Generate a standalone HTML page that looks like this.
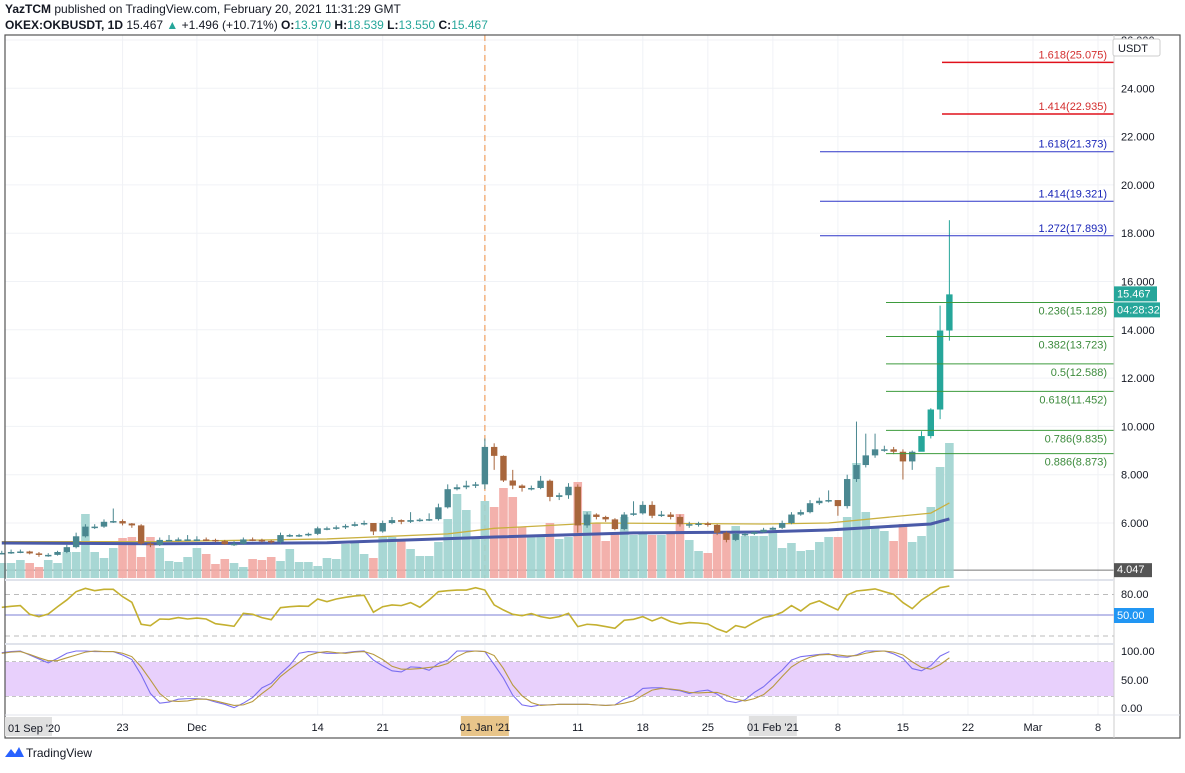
<!DOCTYPE html>
<html><head><meta charset="utf-8"><style>
body{margin:0;background:#fff;width:1185px;height:768px;overflow:hidden;font-family:"Liberation Sans",sans-serif}
svg text{font-family:"Liberation Sans",sans-serif}
</style></head><body>
<svg id="c" width="1185" height="768" viewBox="0 0 1185 768" xmlns="http://www.w3.org/2000/svg">
<rect width="1185" height="768" fill="#fff"/>
<text x="5" y="13" font-size="12" fill="#131722"><tspan font-weight="bold">YazTCM</tspan> published on TradingView.com, February 20, 2021 11:31:29 GMT</text>
<text x="5" y="29" font-size="12" fill="#131722"><tspan font-weight="bold">OKEX:OKBUSDT, 1D</tspan> 15.467 <tspan fill="#26a69a">▲</tspan> +1.496 (+10.71%) <tspan font-weight="bold">O:</tspan><tspan fill="#26a69a">13.970</tspan> <tspan font-weight="bold">H:</tspan><tspan fill="#26a69a">18.539</tspan> <tspan font-weight="bold">L:</tspan><tspan fill="#26a69a">13.550</tspan> <tspan font-weight="bold">C:</tspan><tspan fill="#26a69a">15.467</tspan></text>
<g id="grid"></g>
<rect x="5" y="662" width="1109" height="34" fill="#e8d0fc"/>
<g id="plot"></g>
<rect x="5" y="35" width="1175" height="703" fill="none" stroke="#555" stroke-width="1.2"/>
<line x1="1114" y1="35" x2="1114" y2="738" stroke="#ccc"/>
<line x1="5" y1="580" x2="1114" y2="580" stroke="#e0e3eb" stroke-width="2"/>
<line x1="5" y1="644" x2="1114" y2="644" stroke="#e0e3eb" stroke-width="2"/>
<line x1="5" y1="715" x2="1180" y2="715" stroke="#e0e3eb"/>
<g id="axis"></g>
<g>
<path d="M5 757 L11 749 L15 754 L19 747 L24 757 Z" fill="#2962ff"/>
<text x="26" y="757" font-size="12" fill="#131722">TradingView</text>
</g>
</svg>
<script>
const closes=[4.76,4.80,4.82,4.74,4.68,4.68,4.80,5.00,5.45,5.85,5.85,6.05,6.08,5.98,5.90,5.15,5.10,5.30,5.30,5.32,5.32,5.32,5.30,5.25,5.12,5.14,5.32,5.30,5.26,5.22,5.50,5.50,5.50,5.55,5.78,5.78,5.82,5.88,5.95,6.00,5.65,6.00,6.12,6.05,6.12,6.14,6.16,6.65,7.40,7.48,7.55,7.60,9.15,8.78,7.76,7.55,7.45,7.45,7.75,7.08,7.15,7.50,5.90,6.35,6.25,6.15,5.75,6.35,6.40,6.75,6.30,6.35,6.25,5.95,5.95,5.98,5.92,5.60,5.30,5.55,5.55,5.62,5.72,5.80,6.00,6.35,6.45,6.82,6.92,6.95,6.70,7.82,8.40,8.80,9.05,9.05,8.95,8.55,8.95,9.60,10.70,13.97,15.467];
const opens=[4.72,4.76,4.80,4.82,4.74,4.68,4.68,4.80,5.00,5.45,5.85,5.85,6.05,6.08,5.98,5.90,5.15,5.10,5.30,5.30,5.32,5.32,5.32,5.30,5.25,5.12,5.14,5.32,5.30,5.26,5.22,5.50,5.50,5.50,5.55,5.78,5.78,5.82,5.88,5.95,6.00,5.65,6.00,6.12,6.05,6.12,6.14,6.16,6.65,7.40,7.48,7.55,7.60,9.15,8.78,7.76,7.55,7.45,7.45,7.75,7.08,7.15,7.50,5.90,6.35,6.25,6.15,5.75,6.35,6.40,6.75,6.30,6.35,6.25,5.95,5.95,5.98,5.92,5.60,5.30,5.55,5.55,5.62,5.72,5.80,6.00,6.35,6.45,6.82,6.92,6.95,6.70,7.82,8.40,8.80,9.05,9.05,8.95,8.55,8.95,9.60,10.70,13.97];
const highs=[4.85,4.9,4.9,4.85,4.8,4.75,4.85,5.1,5.6,5.95,5.95,6.15,6.6,6.15,6.0,5.95,5.2,5.4,5.5,5.4,5.5,5.45,5.4,5.35,5.3,5.25,5.4,5.4,5.35,5.3,5.6,5.55,5.55,5.6,5.85,5.85,5.9,5.95,6.05,6.1,6.0,6.1,6.25,6.15,6.45,6.2,6.4,6.8,7.6,7.6,7.75,7.7,9.5,9.3,8.8,8.2,7.6,7.55,7.95,7.8,7.25,7.65,7.6,6.45,6.4,6.3,6.2,6.45,6.9,6.9,6.9,6.5,6.45,6.35,6.05,6.05,6.05,5.95,5.65,5.6,5.6,5.65,5.8,5.85,6.1,6.45,6.55,6.95,7.05,7.35,6.95,8.0,10.2,9.7,9.7,9.2,9.15,9.05,9.0,9.8,10.75,15.0,18.539];
const lows=[4.7,4.72,4.75,4.7,4.6,4.6,4.65,4.75,4.95,5.4,5.75,5.8,6.0,5.9,5.8,5.1,5.0,5.05,5.25,5.25,5.28,5.25,5.25,5.2,5.1,5.05,5.1,5.25,5.2,5.15,5.15,5.42,5.42,5.45,5.5,5.7,5.72,5.75,5.85,5.9,5.5,5.6,5.95,5.95,6.0,6.05,6.08,6.1,6.6,7.35,7.4,7.45,7.4,8.2,7.7,7.4,7.3,7.35,7.4,6.9,6.95,7.0,5.6,5.8,6.15,6.05,5.7,5.7,6.3,6.35,6.2,6.25,6.15,5.85,5.8,5.85,5.85,5.5,5.2,5.25,5.45,5.5,5.6,5.7,5.75,5.95,6.3,6.4,6.75,6.85,6.3,6.6,7.7,8.3,8.7,8.95,8.85,7.8,8.2,9.0,9.5,10.3,13.55];
const volumes=[15,15,18,15,11,18,15,26,26,64,26,20,30,40,41,21,41,30,17,16,21,30,24,14,19,15,11,19,18,21,17,29,16,16,12,20,19,34,35,24,20,41,41,38,29,22,22,36,59,84,68,40,77,71,90,81,51,41,42,55,39,41,96,67,55,37,45,61,43,45,43,43,45,64,38,27,25,44,45,52,42,42,42,45,30,35,27,28,36,41,41,61,115,66,51,47,37,54,36,42,71,111,135];
const rsi=[55.6,56.3,56.8,50.5,48.8,50.7,56,60.9,66.9,69.3,67.6,68.6,68.6,63.3,59.2,43.3,42.3,47.1,46.9,48.1,47.1,47.8,47.1,43.7,42.8,41.8,51.2,50.5,48.1,46.6,55.3,56,56.5,56.3,61.6,59.7,61.6,62.8,63.8,64.3,52,56,57.3,56.8,59,55.6,60.9,66.9,67.6,68.1,68.1,69.8,68.1,57.3,53.6,50.5,49.5,51,48.8,47.6,48.8,51.2,41.6,43.3,42.8,41.6,40.4,46.2,46.9,48.8,45.7,48.3,45.2,43.5,44.5,44.2,43.5,39.9,37.5,42.3,40.8,44.7,48.1,49.5,52,56.8,52.9,58,60.2,56.8,53.6,64.5,67.4,68.1,68.9,66.9,65,59,54.6,60.9,65.2,69.8,71];
const stochK=[97,99,100,93,86,79,87,96,100,100,99,99,99,93,85,58,25,8,10,15,16,16,15,10,6,0,8,18,35,43,60,75,96,99,98,96,96,97,99,100,84,74,65,63,72,71,66,78,84,100,100,100,99,76,52,22,5,2,5,5,6,6,6,6,5,4,5,15,21,34,35,35,32,30,25,29,31,24,12,9,14,27,37,52,66,84,90,92,94,95,90,89,93,100,100,100,95,87,69,65,74,91,99];
const stochD=[96,98,99,94,88,83,83,88,93,98,100,99,99,96,90,72,49,25,12,11,12,15,15,12,8,4,5,11,25,37,55,68,80,92,97,99,97,96,98,99,94,85,73,68,68,69,71,73,78,90,98,100,99,92,69,40,21,9,4,5,6,6,6,6,5,4,5,8,12,22,31,34,33,31,27,26,27,27,22,15,12,16,23,37,55,72,82,89,93,94,93,91,92,96,99,100,98,93,81,71,68,76,88];
const maFastIdx=[0,17,35,48,53,64,82,89,100,102];
const maFastVal=[5.23,5.23,5.34,5.55,5.78,6.0,5.96,6.0,6.41,6.83];
const maSlowIdx=[0,17,35,50,53,68,82,89,100,102];
const maSlowVal=[5.17,5.14,5.18,5.38,5.42,5.59,5.63,5.71,5.96,6.17];
const priceTicks=[26,24,22,20,18,16,14,12,10,8,6];
const timeLabels=["23","Dec","14","21","01 Jan '21","11","18","25","01 Feb '21","8","15","22","Mar","8"];
const timeIdx=[13,21,34,41,52,62,69,76,83,90,97,104,111,118];
const fibVals=[25.075,22.935,21.373,19.321,17.893,15.128,13.723,12.588,11.452,9.835,8.873];
const fibNames=["1.618(25.075)","1.414(22.935)","1.618(21.373)","1.414(19.321)","1.272(17.893)","0.236(15.128)","0.382(13.723)","0.5(12.588)","0.618(11.452)","0.786(9.835)","0.886(8.873)"];
const fibGroup=[0,0,1,1,1,2,2,2,2,2,2];

const NS="http://www.w3.org/2000/svg";
const X=i=>1.8+i*9.29, PY=p=>40+(26-p)*24.15, VY=v=>578-v, RY=v=>615-(v-50)*1.38, SY=v=>651+(100-v)*0.567;
function mk(tag,attrs,parent){const e=document.createElementNS(NS,tag);for(const k in attrs)e.setAttribute(k,attrs[k]);document.getElementById(parent).appendChild(e);return e;}
// grid
priceTicks.forEach(p=>{const l=mk('line',{x1:5,x2:1114,y1:PY(p),y2:PY(p),stroke:'#f0f2f6'},'grid');

});
timeIdx.forEach(d=>{const l=mk('line',{x1:X(d),x2:X(d),y1:35,y2:715,stroke:'#f0f2f6'},'grid');

});
[594.5,636].forEach(y=>mk('line',{x1:5,x2:1114,y1:y,y2:y,stroke:'#bbb','stroke-dasharray':'5,4'},'grid'));
mk('line',{x1:5,x2:1114,y1:615,y2:615,stroke:'#7b7fd6'},'grid');
[662,696].forEach(y=>mk('line',{x1:5,x2:1114,y1:y,y2:y,stroke:'#888','stroke-dasharray':'4,3'},'grid'));
// jan1 dashed & feb1 line
mk('line',{x1:X(52),x2:X(52),y1:35,y2:578,stroke:'#f0a060','stroke-dasharray':'6,4','stroke-width':1.2},'plot');
mk('line',{x1:5,x2:1114,y1:PY(4.047),y2:PY(4.047),stroke:'#777'},'plot');
// volumes
volumes.forEach((v,i)=>{const up=closes[i]>=opens[i];const r=mk('rect',{x:X(i)-4.3,y:VY(v),width:8.6,height:v,fill:up?'#9fd3cf':'#f2a8a3',opacity:0.9},'plot');

});
// MAs
function line(idx,vals,fy,col,w,name){const p=mk('polyline',{points:idx.map((d,k)=>X(d)+','+fy(vals[k])).join(' '),fill:'none',stroke:col,'stroke-width':w},'plot');

}
line(maFastIdx,maFastVal,PY,'#c9b040',1.3,'fast-ma-line');
line(maSlowIdx,maSlowVal,PY,'#4a5aa8',3,'slow-ma-line');
// candles
closes.forEach((c,i)=>{const o=opens[i],up=c>=o,col=i>=99?(up?'#26a69a':'#ef5350'):(up?'#4a8790':'#a8663c');
const w=mk('line',{x1:X(i),x2:X(i),y1:PY(highs[i]),y2:PY(lows[i]),stroke:col,'stroke-width':1},'plot');
const t=Math.min(PY(o),PY(c)),h=Math.max(1.5,Math.abs(PY(o)-PY(c)));
const b=mk('rect',{x:X(i)-3.2,y:t,width:6.4,height:h,fill:col},'plot');

});
// fib
const fibX=[942,820,886],fibCol=['#e0111b','#2f36c8','#3d9b3d'],fibTxt=['#d32f2f','#1a26b8','#3d8b3d'];
fibVals.forEach((v,k)=>{const g=fibGroup[k];const l=mk('line',{x1:fibX[g],x2:1114,y1:PY(v),y2:PY(v),stroke:fibCol[g],'stroke-width':g==0?1.5:1},'plot');


const t=mk('text',{x:1107,y:g==2?PY(v)+12:PY(v)-4,'text-anchor':'end','font-size':11,fill:fibTxt[g]},'plot');t.textContent=fibNames[k];

});
// RSI & stoch
const idxAll=closes.map((_,i)=>i);
line(idxAll,rsi,RY,'#c4b030',1.6,'rsi-line');
line(idxAll,stochK,SY,'#7b6ff0',1.1,'stoch-k-line');
line(idxAll,stochD,SY,'#b89a40',1.1,'stoch-d-line');
// price axis
priceTicks.forEach(p=>{const t=mk('text',{x:1121,y:PY(p)+4,'font-size':11,fill:'#131722'},'axis');t.textContent=p.toFixed(3);

});
function box(x,y,w,h,fill,txt,tc,name){const r=mk('rect',{x:x,y:y,width:w,height:h,fill:fill},'axis');


const t=mk('text',{x:x+3,y:y+h-4,'font-size':11,fill:tc},'axis');t.textContent=txt;}
const ub=mk('rect',{x:1113,y:39,width:47,height:17,fill:'#fff',stroke:'#ccc',rx:2},'axis');
const ut=mk('text',{x:1118,y:52,'font-size':11,fill:'#131722'},'axis');ut.textContent='USDT';
box(1114,PY(15.467)-8,43,15,'#26a69a','15.467','#fff','last-price-label');
box(1114,PY(15.467)+8,46,15,'#26a69a','04:28:32','#fff','countdown-label');
box(1114,PY(4.047)-7,38,14,'#555','4.047','#fff','low-price-label');
[['80.00',598],['100.00',655],['50.00',684],['0.00',712]].forEach(a=>{const t=mk('text',{x:1121,y:a[1],'font-size':11,fill:'#131722'},'axis');t.textContent=a[0];});
box(1114,608,40,15,'#2196f3','50.00','#fff','rsi-50-label');
// time axis
box(5,717,47,19,'#e0e0e0','01 Sep \'20','#131722','time-start-label');
timeLabels.forEach((s,k)=>{const x=X(timeIdx[k]);
if(s.indexOf("'")>0){const r=mk('rect',{x:x-24,y:716,width:48,height:20,fill:k==4?'#e8c58a':'#e0e0e0'},'axis');}
const t=mk('text',{x:x,y:731,'text-anchor':'middle','font-size':11,fill:'#131722'},'axis');t.textContent=s;

});
</script>
</body></html>
